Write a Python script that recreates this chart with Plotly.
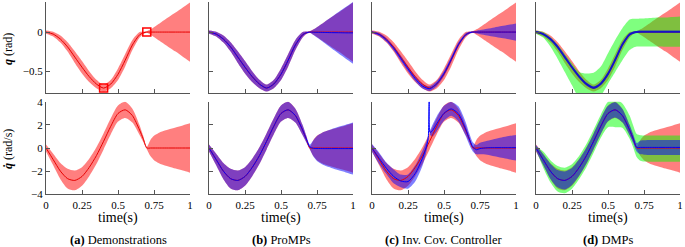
import plotly.graph_objects as go

# ---------------- data ----------------
T = [0, 0.05, 0.1, 0.15, 0.2, 0.25, 0.3, 0.35, 0.4, 0.45, 0.5, 0.55, 0.6, 0.65,
     0.675, 0.7, 0.725, 0.75, 0.8, 0.85, 0.9, 0.95, 1.0]

DEMO_Q_MEAN = [0, -0.026, -0.09, -0.19, -0.32, -0.45, -0.57, -0.665, -0.717, -0.665, -0.54, -0.36,
               -0.165, -0.035, -0.01, 0.0, 0.0, 0.0, 0.0, 0.0, 0.0, 0.0, 0.0]
DEMO_Q_SD = [0.02, 0.03, 0.045, 0.06, 0.075, 0.08, 0.07, 0.055, 0.045, 0.055, 0.075, 0.08,
             0.065, 0.035, 0.018, 0.01, 0.035, 0.063, 0.127, 0.19, 0.25, 0.315, 0.38]
DEMO_V_MEAN = [0.0, -1.0, -2.0, -2.65, -2.8, -2.46, -1.68, -0.66, 0.58, 1.88, 2.98, 3.3,
               2.8, 1.55, 0.8, 0.0, 0.0, 0.0, 0.0, 0.0, 0.0, 0.0, 0.0]
DEMO_V_SD = [0.3, 0.5, 0.7, 0.85, 0.85, 0.8, 0.75, 0.72, 0.7, 0.7, 0.7, 0.7,
             0.6, 0.42, 0.25, 0.1, 0.7, 1.05, 1.4, 1.6, 1.78, 1.95, 2.13]

PROMP_Q_MEAN = [0, -0.026, -0.09, -0.19, -0.32, -0.45, -0.57, -0.665, -0.717, -0.665, -0.54, -0.36,
                -0.165, -0.035, -0.01, 0.0, -0.002, -0.003, -0.005, -0.007, -0.008, -0.01, -0.01]
PROMP_Q_SD = [0.02, 0.03, 0.045, 0.06, 0.075, 0.08, 0.07, 0.055, 0.045, 0.055, 0.075, 0.08,
              0.065, 0.035, 0.016, 0.008, 0.035, 0.066, 0.132, 0.2, 0.265, 0.33, 0.395]
PROMP_V_MEAN = [0.0, -1.0, -2.0, -2.65, -2.8, -2.46, -1.68, -0.66, 0.58, 1.88, 2.98, 3.3,
                2.8, 1.55, 0.8, 0.1, -0.03, -0.04, -0.05, -0.05, -0.05, -0.05, -0.05]
PROMP_V_SD = [0.3, 0.5, 0.7, 0.85, 0.85, 0.8, 0.75, 0.72, 0.7, 0.7, 0.7, 0.7,
              0.6, 0.45, 0.3, 0.2, 0.7, 1.08, 1.45, 1.68, 1.88, 2.06, 2.25]

INVCOV_Q_MEAN = [0, -0.03, -0.1, -0.205, -0.335, -0.47, -0.595, -0.69, -0.725, -0.66, -0.53, -0.35,
                 -0.16, -0.035, -0.01, 0.0, 0.0, 0.0, 0.0, 0.0, 0.0, 0.0, 0.0]
INVCOV_Q_SD = [0.015, 0.02, 0.025, 0.03, 0.035, 0.035, 0.035, 0.033, 0.03, 0.033, 0.035, 0.035,
               0.03, 0.02, 0.014, 0.01, 0.018, 0.027, 0.043, 0.06, 0.077, 0.093, 0.11]
T_IC = [0, 0.05, 0.1, 0.15, 0.2, 0.25, 0.3, 0.35, 0.375, 0.39, 0.397, 0.403, 0.42, 0.45,
        0.5, 0.55, 0.6, 0.65, 0.675, 0.7, 0.725, 0.75, 0.8, 0.85, 0.9, 0.95, 1.0]
INVCOV_V_MEAN = [0.0, -0.9, -1.75, -2.45, -2.85, -2.9, -2.2, -0.9, 0.0, 0.8, 4.0, 1.35, 1.5, 2.1,
                 3.0, 3.38, 2.95, 1.65, 0.8, 0.1, -0.15, -0.05, 0.02, 0.03, 0.03, 0.03, 0.03]
INVCOV_V_SD = [0.35, 0.5, 0.5, 0.6, 0.55, 0.62, 0.7, 0.65, 0.5, 0.3, 0.1, 0.2, 0.5, 0.65,
               0.65, 0.6, 0.65, 0.6, 0.5, 0.4, 0.4, 0.5, 0.6, 0.75, 0.88, 1.0, 1.1]

DMP_Q_MEAN = [0, -0.026, -0.09, -0.19, -0.32, -0.45, -0.57, -0.665, -0.712, -0.66, -0.535, -0.355,
              -0.16, -0.03, -0.008, 0.002, 0.004, 0.005, 0.005, 0.005, 0.005, 0.005, 0.005]
DMP_Q_SD = [0.01, 0.012, 0.014, 0.016, 0.018, 0.018, 0.018, 0.018, 0.016, 0.018, 0.018, 0.018,
            0.016, 0.014, 0.012, 0.012, 0.012, 0.012, 0.012, 0.012, 0.012, 0.012, 0.012]
DMP_V_MEAN = [0.0, -1.0, -2.0, -2.65, -2.8, -2.46, -1.68, -0.66, 0.58, 1.88, 2.98, 3.3,
              2.8, 1.55, 0.8, 0.05, 0.05, 0.05, 0.05, 0.05, 0.05, 0.05, 0.05]
DMP_V_SD = [0.25, 0.45, 0.65, 0.75, 0.78, 0.73, 0.7, 0.68, 0.66, 0.66, 0.66, 0.66,
            0.58, 0.45, 0.4, 0.38, 0.6, 0.63, 0.65, 0.65, 0.65, 0.65, 0.65]
GREEN_Q_MID = [0.0, -0.035, -0.125, -0.25, -0.395, -0.54, -0.68, -0.715, -0.72, -0.63, -0.465, -0.305,
               -0.155, -0.035, -0.015, -0.008, -0.005, -0.005, -0.003, 0.0, 0.0, 0.003, 0.005]
GREEN_Q_HW = [0.02, 0.035, 0.06, 0.09, 0.115, 0.14, 0.17, 0.185, 0.2, 0.19, 0.195, 0.205,
              0.205, 0.195, 0.185, 0.178, 0.18, 0.18, 0.182, 0.185, 0.187, 0.19, 0.193]
GREEN_V_MID = [0.0, -1.0, -2.0, -2.65, -2.8, -2.46, -1.68, -0.66, 0.58, 1.88, 2.9, 3.0,
               2.8, 1.8, 1.0, 0.2, 0.0, -0.05, -0.05, -0.05, -0.05, -0.05, -0.05]
GREEN_V_HW = [0.15, 0.7, 0.95, 1.1, 1.1, 1.05, 1.0, 1.0, 1.0, 1.0, 1.1, 1.2,
              1.05, 1.0, 0.95, 1.0, 1.1, 1.12, 1.13, 1.13, 1.13, 1.13, 1.13]

VIA_T = [0.4, 0.7]
VIA_Q = [-0.717, 0.0]

X_TICKS = [0, 0.25, 0.5, 0.75, 1]
X_TICK_TEXT = ["0", "0.25", "0.5", "0.75", "1"]
Q_TICKS = [-0.5, 0]
Q_TICK_TEXT = ["\u22120.5", "0"]
V_TICKS = [-4, -2, 0, 2, 4]
V_TICK_TEXT = ["\u22124", "\u22122", "0", "2", "4"]
CAPTIONS = ["<b>(a)</b> Demonstrations", "<b>(b)</b> ProMPs",
            "<b>(c)</b> Inv. Cov. Controller", "<b>(d)</b> DMPs"]

# ---------------- style / layout ----------------
W, H = 685, 247
FONT = "Liberation Serif"
RED_FILL = "rgba(255,0,0,0.5)"
BLUE_FILL = "rgba(0,0,255,0.5)"
GREEN_FILL = "rgba(0,255,0,0.5)"
RED_LINE = "rgb(230,0,0)"
BLUE_LINE = "rgb(0,0,255)"
AX_COLOR = "#555555"
X_PIX = [(46, 190), (209, 353), (372, 516), (536, 680)]
Y_PIX = [(2, 93), (101.7, 194.3)]
Q_RANGE = [-0.78, 0.385]
V_RANGE = [-4, 4]

fig = go.Figure()


def sfx(k):
    return "" if k == 1 else str(k)


def add_band(k, t, mid, hw, color):
    lo = [m - s for m, s in zip(mid, hw)]
    hi = [m + s for m, s in zip(mid, hw)]
    common = dict(x=t, mode="lines", xaxis="x" + sfx(k), yaxis="y" + sfx(k),
                  hoverinfo="skip", showlegend=False,
                  line=dict(width=0, shape="spline", smoothing=0.7))
    fig.add_trace(go.Scatter(y=lo, **common))
    fig.add_trace(go.Scatter(y=hi, fill="tonexty", fillcolor=color, **common))


def add_line(k, t, y, color, width=1.0):
    fig.add_trace(go.Scatter(x=t, y=y, mode="lines", xaxis="x" + sfx(k), yaxis="y" + sfx(k),
                             hoverinfo="skip", showlegend=False,
                             line=dict(color=color, width=width, shape="spline", smoothing=0.7)))


# Panel (a)
add_band(1, T, DEMO_Q_MEAN, DEMO_Q_SD, RED_FILL)
add_line(1, T, DEMO_Q_MEAN, RED_LINE)
fig.add_trace(go.Scatter(x=VIA_T, y=VIA_Q, mode="markers", xaxis="x", yaxis="y",
                         marker=dict(symbol="square-open", size=8, color="red",
                                     line=dict(width=1.5, color="red")),
                         cliponaxis=False, showlegend=False, hoverinfo="skip"))
add_band(5, T, DEMO_V_MEAN, DEMO_V_SD, RED_FILL)
add_line(5, T, DEMO_V_MEAN, RED_LINE)

# Panel (b)
add_band(2, T, DEMO_Q_MEAN, DEMO_Q_SD, RED_FILL)
add_band(2, T, PROMP_Q_MEAN, PROMP_Q_SD, BLUE_FILL)
add_line(2, T, DEMO_Q_MEAN, RED_LINE)
add_line(2, T, PROMP_Q_MEAN, BLUE_LINE)
add_band(6, T, DEMO_V_MEAN, DEMO_V_SD, RED_FILL)
add_band(6, T, PROMP_V_MEAN, PROMP_V_SD, BLUE_FILL)
add_line(6, T, DEMO_V_MEAN, RED_LINE)
add_line(6, T, PROMP_V_MEAN, BLUE_LINE)

# Panel (c)
add_band(3, T, DEMO_Q_MEAN, DEMO_Q_SD, RED_FILL)
add_band(3, T, INVCOV_Q_MEAN, INVCOV_Q_SD, BLUE_FILL)
add_line(3, T, DEMO_Q_MEAN, RED_LINE)
add_line(3, T, INVCOV_Q_MEAN, BLUE_LINE)
add_band(7, T, DEMO_V_MEAN, DEMO_V_SD, RED_FILL)
add_band(7, T_IC, INVCOV_V_MEAN, INVCOV_V_SD, BLUE_FILL)
add_line(7, T, DEMO_V_MEAN, RED_LINE)
add_line(7, T_IC, INVCOV_V_MEAN, BLUE_LINE)

# Panel (d)
add_band(4, T, DEMO_Q_MEAN, DEMO_Q_SD, RED_FILL)
add_band(4, T, GREEN_Q_MID, GREEN_Q_HW, GREEN_FILL)
add_band(4, T, DMP_Q_MEAN, DMP_Q_SD, BLUE_FILL)
add_line(4, T, DEMO_Q_MEAN, RED_LINE)
add_line(4, T, DMP_Q_MEAN, "rgb(20,20,200)", 2)
add_band(8, T, DEMO_V_MEAN, DEMO_V_SD, RED_FILL)
add_band(8, T, GREEN_V_MID, GREEN_V_HW, GREEN_FILL)
add_band(8, T, DMP_V_MEAN, DMP_V_SD, BLUE_FILL)
add_line(8, T, DEMO_V_MEAN, RED_LINE)
add_line(8, T, DMP_V_MEAN, BLUE_LINE)

layout = dict(width=W, height=H, margin=dict(l=0, r=0, t=0, b=0, pad=0, autoexpand=False),
              autosize=False,
              paper_bgcolor="white", plot_bgcolor="white", showlegend=False,
              font=dict(family=FONT, size=10, color="black"))

for row in range(2):
    for col in range(4):
        k = row * 4 + col + 1
        x0, x1 = X_PIX[col]
        y0, y1 = Y_PIX[row]
        axcommon = dict(showline=True, linecolor=AX_COLOR, linewidth=1, ticks="inside",
                        ticklen=4, tickcolor=AX_COLOR, tickwidth=1, showgrid=False,
                        zeroline=False, mirror=False, fixedrange=True, automargin=False)
        layout["xaxis" + sfx(k)] = dict(
            domain=[x0 / W, x1 / W], range=[0, 1], anchor="y" + sfx(k),
            tickvals=X_TICKS, ticktext=X_TICK_TEXT, showticklabels=(row == 1),
            tickfont=dict(family=FONT, size=11), **axcommon)
        layout["yaxis" + sfx(k)] = dict(
            domain=[1 - y1 / H, 1 - y0 / H], range=Q_RANGE if row == 0 else V_RANGE,
            anchor="x" + sfx(k),
            tickvals=Q_TICKS if row == 0 else V_TICKS,
            ticktext=Q_TICK_TEXT if row == 0 else V_TICK_TEXT,
            showticklabels=(col == 0), tickfont=dict(family=FONT, size=11), **axcommon)

annotations = [
    dict(text="<b><i>q</i></b> (rad)", x=8 / W, y=1 - 49 / H, xref="paper", yref="paper",
         xanchor="center", yanchor="middle",
         textangle=-90, showarrow=False, font=dict(family=FONT, size=12)),
    dict(text="<b><i>q\u0307</i></b> (rad/s)", x=8 / W, y=1 - 149 / H, xref="paper", yref="paper",
         xanchor="center", yanchor="middle",
         textangle=-90, showarrow=False, font=dict(family=FONT, size=12)),
]
for col in range(4):
    cx = (X_PIX[col][0] + X_PIX[col][1]) / 2 / W
    annotations.append(dict(text="time(s)", x=cx, y=1 - 218 / H, xref="paper", yref="paper",
                            xanchor="center", yanchor="middle",
                            showarrow=False, font=dict(family=FONT, size=14)))
    annotations.append(dict(text=CAPTIONS[col], x=cx, y=1 - 240 / H, xref="paper", yref="paper",
                            xanchor="center", yanchor="middle",
                            showarrow=False, font=dict(family=FONT, size=12.5)))
layout["annotations"] = annotations

fig.update_layout(**layout)
fig.write_html("out.html", config={"displayModeBar": False, "staticPlot": True},
               post_script="document.body.style.margin='0px';document.body.style.overflow='hidden';")
